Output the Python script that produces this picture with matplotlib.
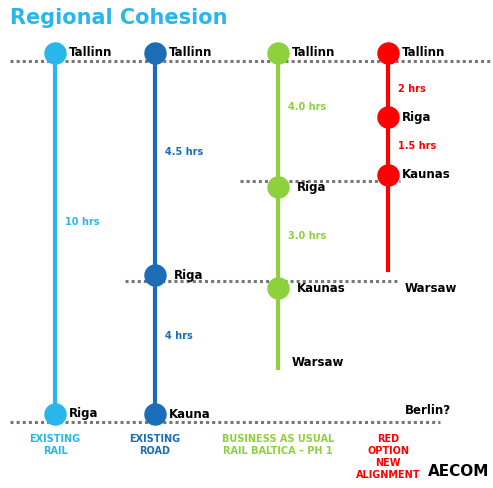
import matplotlib.pyplot as plt

# columns: x, colour, stations, node y (pixels), line end y, segment labels
names = ["EXISTING\nRAIL", "EXISTING\nROAD", "BUSINESS AS USUAL\nRAIL BALTICA – PH 1", "RED\nOPTION\nNEW\nALIGNMENT"]
colors = ["#29B6EA", "#1A6DB6", "#8DD13C", "#FF0000"]
xs = [55, 155, 278, 388]
stations = [["Tallinn", "Riga"], ["Tallinn", "Riga", "Kauna"],
            ["Tallinn", "Riga", "Kaunas"], ["Tallinn", "Riga", "Kaunas"]]
node_y = [[53, 414], [53, 275, 414], [53, 187, 288], [53, 117, 175]]
line_end = [414, 414, 368, 270]
seg_labels = [["10 hrs"], ["4.5 hrs", "4 hrs"], ["4.0 hrs", "3.0 hrs"], ["2 hrs", "1.5 hrs"]]
seg_label_y = [[222], [152, 336], [107, 236], [89, 146]]

fig = plt.figure(figsize=(4.93, 4.88), dpi=100)
ax = fig.add_axes([0, 0, 1, 1])
ax.set_xlim(0, 493)
ax.set_ylim(488, 0)
ax.axis("off")

# dotted guides
for x0, x1, y in [(10, 490, 61), (240, 400, 181), (125, 398, 281), (10, 440, 422)]:
    ax.plot([x0, x1], [y, y], color="#777777", lw=2.2, ls=(0, (1, 1)), zorder=1)

for i in range(4):
    ax.plot([xs[i], xs[i]], [node_y[i][0], line_end[i]], color=colors[i], lw=3, zorder=2)
    ax.scatter([xs[i]] * len(node_y[i]), node_y[i], s=230, color=colors[i], zorder=3)
    for j, (name, y) in enumerate(zip(stations[i], node_y[i])):
        off = 19 if (j > 0 and i in (1, 2)) and y < 400 else 14
        ax.text(xs[i] + off, y, name, fontsize=8.5, fontweight="bold", va="center", ha="left")
    for lab, y in zip(seg_labels[i], seg_label_y[i]):
        ax.text(xs[i] + 10, y, lab, fontsize=7, fontweight="bold", color=colors[i], va="center")
    ax.text(xs[i], 434, names[i], fontsize=7, fontweight="bold", color=colors[i],
            ha="center", va="top", linespacing=1.25)

ax.text(292, 363, "Warsaw", fontsize=8.5, fontweight="bold", va="center")
ax.text(405, 289, "Warsaw", fontsize=8.5, fontweight="bold", va="center")
ax.text(405, 411, "Berlin?", fontsize=8.5, fontweight="bold", va="center")
ax.text(10, 18, "Regional Cohesion", fontsize=15, fontweight="bold", color="#29B6EA", va="center")
ax.text(428, 472, "AECOM", fontsize=11, fontweight="heavy", color="black", va="center")

fig.savefig("out.png", dpi=100)
